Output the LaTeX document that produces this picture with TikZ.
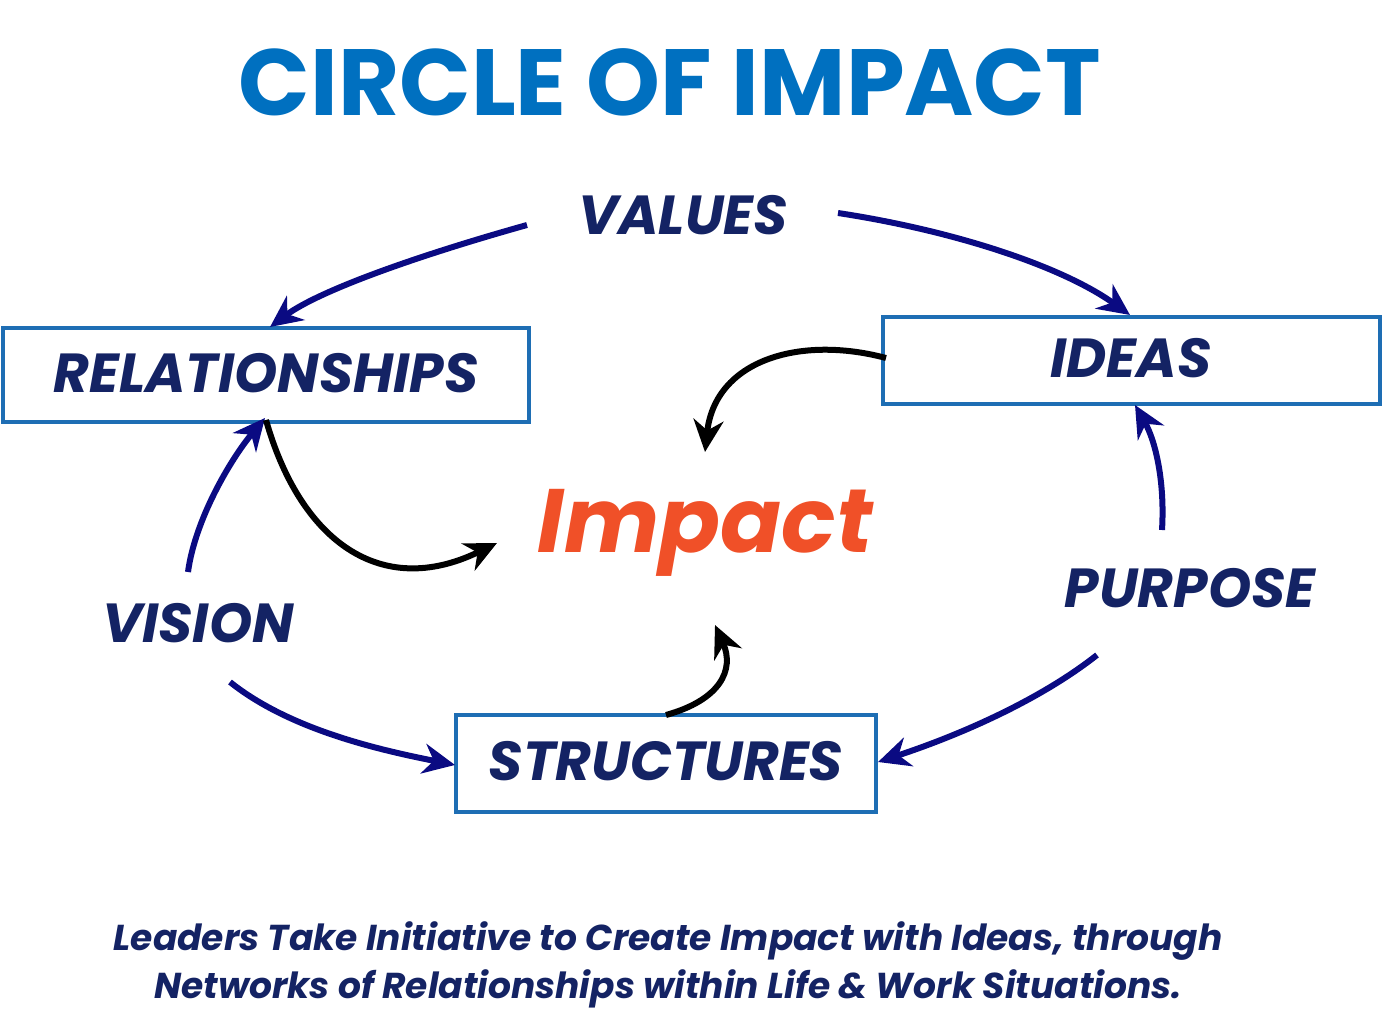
\documentclass[tikz,border=0pt]{standalone}
\usepackage{fontspec}
\setmainfont{Poppins}
\usetikzlibrary{arrows.meta}
\definecolor{titleblue}{RGB}{0,112,192}
\definecolor{navy}{RGB}{20,35,100}
\definecolor{arrnavy}{RGB}{10,10,130}
\definecolor{boxblue}{RGB}{30,110,180}
\definecolor{impred}{RGB}{240,80,40}
\tikzset{x=1pt,y=-1pt,
 lbl/.style={text=navy,font=\fontsize{55}{60}\selectfont\bfseries\itshape},
 boxn/.style={draw=boxblue,line width=4pt,inner sep=0pt},
 navarr/.style={draw=arrnavy,line width=6pt,-{Stealth[length=32pt,width=30pt]}},
 blkarr/.style={draw=black,line width=6pt,-{Stealth[length=32pt,width=30pt]}}}
\begin{document}
\begin{tikzpicture}
\useasboundingbox (0,0) rectangle (1383,1033);
\node[text=titleblue,font=\fontsize{94}{100}\selectfont\bfseries] (title) at (670,82) {CIRCLE OF IMPACT};
\node[boxn,minimum width=526pt,minimum height=94pt] (rel) at (266,375) {};
\node[lbl] at (266,373) {RELATIONSHIPS};
\node[boxn,minimum width=497pt,minimum height=87pt] (ideas) at (1131,360) {};
\node[lbl] at (1131,358) {IDEAS};
\node[boxn,minimum width=420pt,minimum height=97pt] (str) at (666,763) {};
\node[lbl] at (666,761) {STRUCTURES};
\node[lbl] (values) at (683,215) {VALUES};
\node[lbl] (purpose) at (1190,588) {PURPOSE};
\node[lbl] (vision) at (198,623) {VISION};
\node[text=impred,font=\fontsize{90}{96}\selectfont\bfseries\itshape] (impact) at (705,533) {Impact};
\coordinate (v1) at (527,225); \coordinate (v1e) at (270,327);
\coordinate (v2) at (838,213); \coordinate (v2e) at (1130,315);
\coordinate (p1) at (1162,530); \coordinate (p1e) at (1135,405);
\coordinate (p2) at (1097,655); \coordinate (p2e) at (878,762);
\coordinate (s1) at (188,572); \coordinate (s1e) at (265,418);
\coordinate (s2) at (230,682); \coordinate (s2e) at (455,765);
\draw[navarr] (v1) .. controls (420,255) and (320,290) .. (v1e);
\draw[navarr] (v2) .. controls (950,230) and (1060,265) .. (v2e);
\draw[navarr] (p1) .. controls (1165,480) and (1155,440) .. (p1e);
\draw[navarr] (p2) .. controls (1040,700) and (960,735) .. (p2e);
\draw[navarr] (s1) .. controls (195,520) and (230,460) .. (s1e);
\draw[navarr] (s2) .. controls (290,730) and (380,750) .. (s2e);
\coordinate (b1) at (886,358); \coordinate (b1e) at (705,452);
\coordinate (b2) at (266,420); \coordinate (b2e) at (497,543);
\coordinate (b3) at (666,715); \coordinate (b3e) at (715,625);
\draw[blkarr] (b1) .. controls (800,335) and (715,360) .. (b1e);
\draw[blkarr] (b2) .. controls (300,540) and (380,600) .. (b2e);
\draw[blkarr] (b3) .. controls (720,700) and (735,670) .. (b3e);
\node[text=navy,font=\fontsize{36}{48}\selectfont\bfseries\itshape,align=center] (foot) at (668,965) {Leaders Take Initiative to Create Impact with Ideas, through\\Networks of Relationships within Life \& Work Situations.};
\end{tikzpicture}
\end{document}
